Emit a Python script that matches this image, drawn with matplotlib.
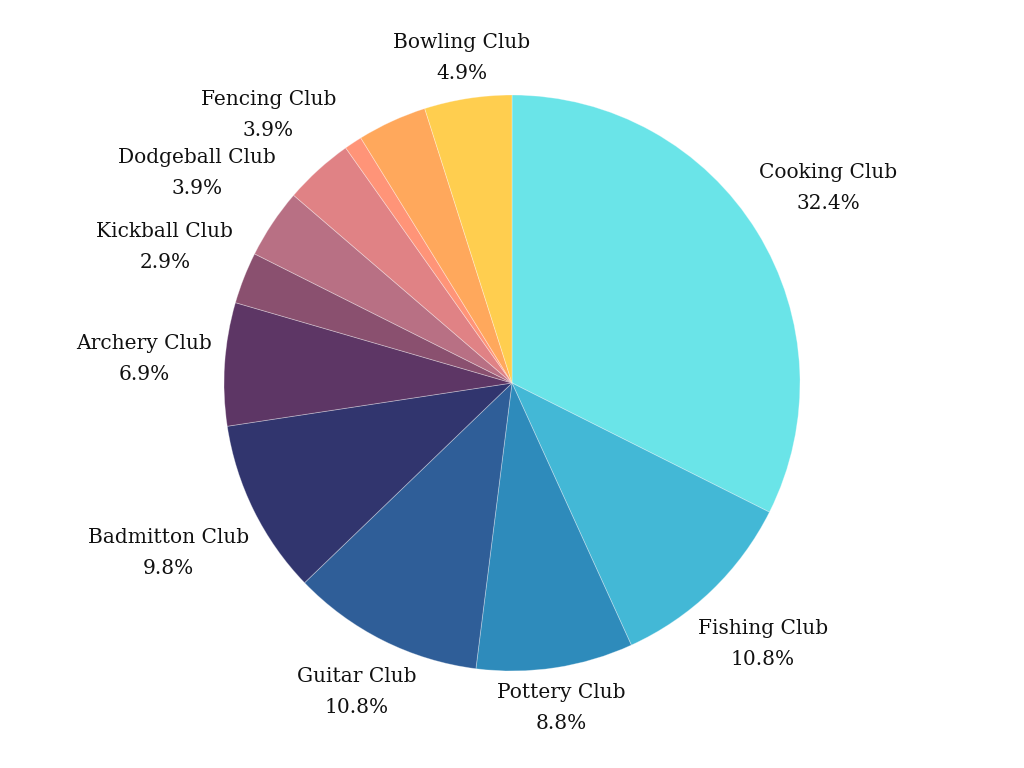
import numpy as np
import matplotlib
matplotlib.use("Agg")
import matplotlib.pyplot as plt

plt.rcParams['font.family'] = ['DejaVu Serif']

labels = ["Cooking Club", "Fishing Club", "Pottery Club", "Guitar Club",
          "Badmitton Club", "Archery Club", "Kickball Club", "Dodgeball Club",
          "Fencing Club", "", "", "Bowling Club"]
values = [32.4, 10.8, 8.8, 10.8, 9.8, 6.9, 2.9, 3.9, 3.9, 1.0, 3.9, 4.9]
colors = ["#6ae4e8", "#43b8d6", "#2e8bbb", "#2f5e98", "#31356e", "#5d3665",
          "#8a506f", "#b87084", "#e08285", "#ff9478", "#ffa85c", "#ffce4f"]

W, H, R_PX = 1024, 768, 288
fig = plt.figure(figsize=(W / 100, H / 100), dpi=100)
ax = fig.add_axes([0, 0, 1, 1])

wedges, _ = ax.pie(values, colors=colors, startangle=90, counterclock=False,
                   radius=1.0, wedgeprops=dict(edgecolor=(1, 1, 1, 0.35), linewidth=0.6))

# pie sets its own limits, so fix them afterwards: 1 data unit = 288 px
cx, cy = 512, 768 - 383
ax.set_xlim(-cx / R_PX, (W - cx) / R_PX)
ax.set_ylim(-cy / R_PX, (H - cy) / R_PX)
ax.set_aspect('equal')
ax.axis('off')

fig.canvas.draw()
renderer = fig.canvas.get_renderer()
r0 = 300 / R_PX

total = sum(values)
start = 90.0
for lab, v in zip(labels, values):
    span = v / total * 360
    mid = np.deg2rad(start - span / 2)
    start -= span
    if not lab:
        continue
    t = ax.text(0, 0, f"{lab}\n{v:.1f}%", ha='center', va='center',
                fontsize=14.5, linespacing=1.8, color='#111111')
    bb = t.get_window_extent(renderer)
    hw, hh = bb.width / 2 / R_PX, bb.height / 2 / R_PX
    c, s = np.cos(mid), np.sin(mid)
    lo, hi = 0.0, 4.0
    for _ in range(60):
        d = (lo + hi) / 2
        dx = max(abs(d * c) - hw, 0)
        dy = max(abs(d * s) - hh, 0)
        if np.hypot(dx, dy) < r0:
            lo = d
        else:
            hi = d
    t.set_position((hi * c, hi * s))

fig.savefig("out.png", dpi=100)
